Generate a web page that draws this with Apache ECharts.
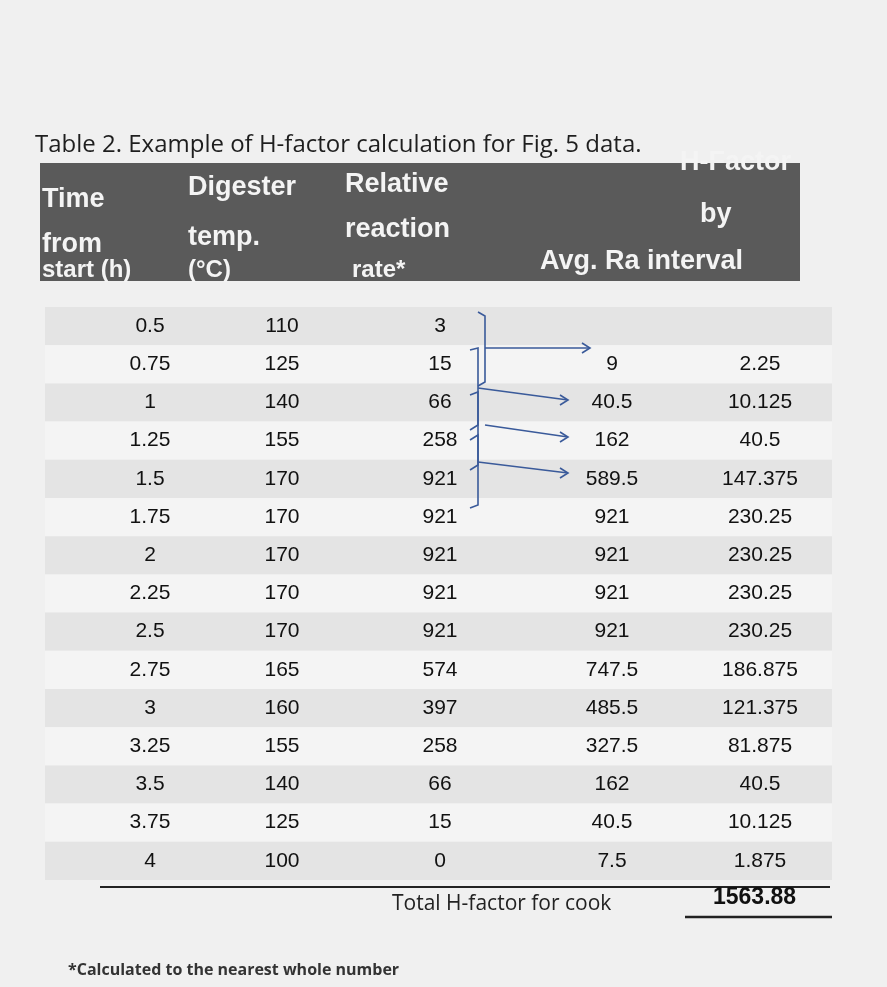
<!DOCTYPE html>
<html><head><meta charset="utf-8">
<script src="https://cdn.jsdelivr.net/npm/echarts@6/dist/echarts.min.js"></script>
<style>html,body{margin:0;padding:0;background:#f2f2f2}#c{width:887px;height:987px}</style>
</head><body><div id="c"></div>
<script>
const timeH = ['0.5','0.75','1','1.25','1.5','1.75','2','2.25','2.5','2.75','3','3.25','3.5','3.75','4'];
const temps = [110,125,140,155,170,170,170,170,170,165,160,155,140,125,100];
const rates = [3,15,66,258,921,921,921,921,921,574,397,258,66,15,0];
const avgRa = ['9','40.5','162','589.5','921','921','921','921','747.5','485.5','327.5','162','40.5','7.5'];
const hFactor = ['2.25','10.125','40.5','147.375','230.25','230.25','230.25','230.25','186.875','121.375','81.875','40.5','10.125','1.875'];
const rowCats = timeH.map((t,i)=>'r'+i);
const colX = {time:150, temp:282, rate:440, avg:612, hf:760};
const total = '1563.88';

const mk = (x, vals, offsetRow) => ({
  type:'scatter', symbolSize:1, itemStyle:{opacity:0}, silent:true, z:10,
  data: vals.map((v,i)=>({value:[x, rowCats[i+offsetRow]], txt:String(v)})),
  label:{show:true, position:'inside', formatter:p=>p.data.txt, color:'#111', opacity:1,
         fontFamily:'Liberation Sans, Arial', fontSize:21, textBorderWidth:0}
});
const chart = echarts.init(document.getElementById('c'));
const hdr = (x,y,t,size)=>({type:'text',x,y,z:5,style:{text:t,fill:'#f4f4f4',verticalAlign:'middle',font:'bold '+(size||27)+'px Liberation Sans Narrow, Liberation Sans, Arial'}});
const ln = (pts)=>({type:'polyline',z:20,shape:{points:pts},style:{stroke:'#3a5a9a',lineWidth:1.6,fill:null}});
chart.setOption({
  backgroundColor:'#f0f0f0',
  grid:{left:45,right:55,top:307,bottom:107},
  xAxis:{type:'value',min:45,max:832,show:false},
  yAxis:{type:'category',data:rowCats,inverse:true,axisLine:{show:false},axisTick:{show:false},axisLabel:{show:false},
    splitArea:{show:true,areaStyle:{color:['#e4e4e4','#f4f4f4']}}},
  series:[
    mk(colX.time,timeH,0), mk(colX.temp,temps,0), mk(colX.rate,rates,0),
    mk(colX.avg,avgRa,1), mk(colX.hf,hFactor,1)
  ],
  graphic:[
    {type:'rect',z:1,shape:{x:40,y:163,width:760,height:118},style:{fill:'#5a5a5a'}},
    {type:'text',x:35,y:145,style:{text:'Table 2. Example of H-factor calculation for Fig. 5 data.',verticalAlign:'middle',fill:'#1e1e1e',font:'24px Open Sans, Liberation Sans'}},
    hdr(42,200,'Time'),hdr(42,245,'from'),hdr(42,270,'start (h)',24),
    hdr(188,188,'Digester'),hdr(188,238,'temp.'),hdr(188,270,'(°C)',24),
    hdr(345,185,'Relative'),hdr(345,230,'reaction'),hdr(352,270,'rate*',24),
    hdr(680,163,'H-Factor'),hdr(700,215,'by'),hdr(540,262,'Avg. Ra interval'),
    ln([[478,312],[485,316],[485,382],[478,386]]),
    ln([[470,350],[478,348],[478,425],[470,430]]),
    ln([[470,395],[478,392],[478,465],[470,470]]),
    ln([[470,440],[478,435],[478,505],[470,508]]),
    ln([[485,348],[590,348]]), ln([[582,343],[590,348],[582,353]]),
    ln([[478,388],[568,400]]), ln([[560,395],[568,400],[560,405]]),
    ln([[485,425],[568,437]]), ln([[560,432],[568,437],[560,442]]),
    ln([[478,462],[568,473]]), ln([[560,468],[568,473],[560,478]]),
    {type:'line',shape:{x1:100,y1:887,x2:830,y2:887},style:{stroke:'#222',lineWidth:2}},
    {type:'line',shape:{x1:690,y1:874,x2:830,y2:874},style:{stroke:'#222',lineWidth:2}},
    {type:'line',shape:{x1:685,y1:917,x2:832,y2:917},style:{stroke:'#222',lineWidth:2.5}},
    {type:'text',x:392,y:904,style:{text:'Total H-factor for cook',verticalAlign:'middle',fill:'#222',font:'21px Open Sans, Liberation Sans'}},
    {type:'text',x:713,y:898,style:{text:total,verticalAlign:'middle',fill:'#111',font:'bold 23px Liberation Sans'}},
    {type:'text',x:68,y:970,style:{text:'*Calculated to the nearest whole number',verticalAlign:'middle',fill:'#333',font:'bold 16px Open Sans, Liberation Sans'}}
  ]
});
</script></body></html>
